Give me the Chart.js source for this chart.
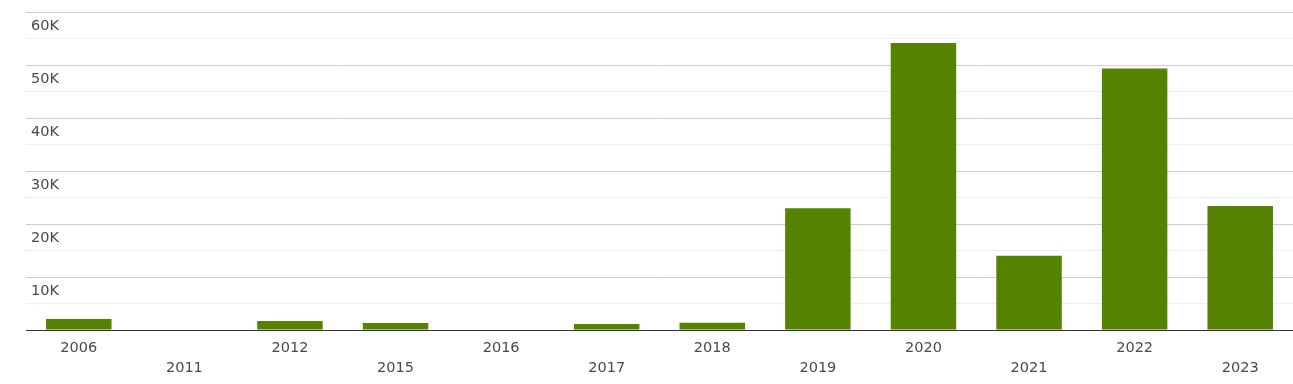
<!DOCTYPE html>
<html>
<head>
<meta charset="utf-8">
<script src="https://cdn.jsdelivr.net/npm/chart.js@4"></script>
<style>
  html, body { margin: 0; padding: 0; background: #fff; }
  #wrap { width: 1293px; height: 384px; position: relative; }
</style>
</head>
<body>
<div id="wrap"><canvas id="chart"></canvas></div>
<script>
// Chart data
const years = ['2006', '2011', '2012', '2015', '2016', '2017', '2018', '2019', '2020', '2021', '2022', '2023'];
const values = [2100, 0, 1700, 1300, 0, 1150, 1350, 23000, 54200, 14000, 49400, 23400];
const yMax = 60000;
const yStep = 5000;

const BAR_COLOR = '#558200';

new Chart(document.getElementById('chart'), {
  type: 'bar',
  data: {
    labels: years,
    datasets: [{
      data: values,
      backgroundColor: BAR_COLOR,
      borderWidth: 0,
      barPercentage: 0.62,
      categoryPercentage: 1
    }]
  },
  options: {
    responsive: true,
    maintainAspectRatio: false,
    animation: false,
    layout: { padding: { left: 26, top: 12, right: 0, bottom: 0 } },
    plugins: {
      legend: { display: false },
      tooltip: { enabled: false }
    },
    scales: {
      x: {
        afterFit: (scale) => { scale.height = 54; },
        grid: { display: false, drawTicks: false },
        border: { display: true, color: '#333', width: 1 },
        ticks: {
          autoSkip: false,
          maxRotation: 0,
          padding: 8,
          color: '#4a4a4a',
          font: { family: 'DejaVu Sans', size: 14.5, lineHeight: 1.4 },
          callback: function (val, idx) {
            const label = this.getLabelForValue(val);
            return idx % 2 === 0 ? label : ['', label];
          }
        }
      },
      y: {
        min: 0,
        max: yMax,
        afterFit: (scale) => { scale.width = 0; },
        grid: {
          drawTicks: false,
          color: (ctx) => (ctx.tick && ctx.tick.value % 10000 === 0) ? '#cccccc' : '#eeeeee'
        },
        border: { display: false },
        ticks: {
          stepSize: yStep,
          mirror: true,
          padding: 5,
          labelOffset: 14,
          color: '#4a4a4a',
          font: { family: 'DejaVu Sans', size: 14.5, lineHeight: 1 },
          callback: (v) => (v > 0 && v % 10000 === 0) ? (v / 1000) + 'K' : ''
        }
      }
    }
  }
});
</script>
</body>
</html>
